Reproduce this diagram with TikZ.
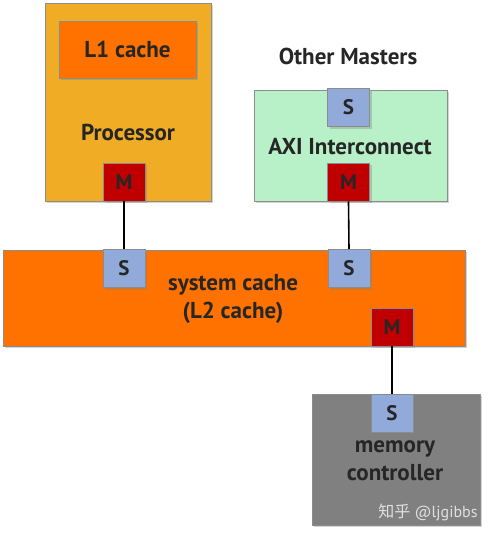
\documentclass[tikz,border=0pt]{standalone}
\usepackage{fontspec}
\setmainfont{PT Sans}
\newfontfamily\cjk{Noto Sans CJK SC}
\usetikzlibrary{shadows}

\definecolor{procyellow}{RGB}{240,172,36}
\definecolor{cacheorange}{RGB}{255,114,0}
\definecolor{axigreen}{RGB}{184,240,200}
\definecolor{memgray}{RGB}{128,128,128}
\definecolor{slaveblue}{RGB}{145,170,218}
\definecolor{masterred}{RGB}{192,0,0}

\tikzset{
  block/.style={draw=black!45, line width=0.8pt, inner sep=0pt,
    drop shadow={shadow xshift=2pt, shadow yshift=-2pt, opacity=0.35}},
  slave/.style={block, fill=slaveblue, minimum width=42pt, minimum height=38pt,
    font=\fontsize{21}{24}\selectfont\bfseries, text=black!85},
  master/.style={slave, fill=masterred},
  label/.style={font=\fontsize{23}{28}\selectfont\bfseries, text=black!85, align=center},
  wire/.style={line width=1.6pt}
}

\begin{document}
\begin{tikzpicture}[x=1pt,y=-1pt]
\useasboundingbox (0,0) rectangle (488,535);

% processor
\node[block, fill=procyellow, minimum width=166pt, minimum height=198pt] (proc) at (128,102) {};
\node[block, fill=cacheorange, minimum width=137pt, minimum height=57pt] (l1) at (127.5,49.5) {};
\node[label] at (l1) {L1 cache};
\node[label] (proclabel) at (128,132) {Processor};
\node[master] (pm) at (124,182) {M};

% interconnect
\node[label] (others) at (348,56) {Other Masters};
\node[block, fill=axigreen, minimum width=193pt, minimum height=111pt] (axi) at (350.5,145.5) {};
\node[slave] (axis) at (348.5,107.5) {S};
\node[label] (axilabel) at (350,147) {AXI Interconnect};
\node[master] (axim) at (348.5,182) {M};

% system cache
\node[block, fill=cacheorange, minimum width=462pt, minimum height=96pt] (l2) at (234,298) {};
\node[slave] (l2s1) at (124,268.5) {S};
\node[slave] (l2s2) at (349,268.5) {S};
\node[label] (l2label) at (233,299) {system cache\\(L2 cache)};
\node[master] (l2m) at (392,327) {M};

% memory controller
\node[block, fill=memgray, minimum width=168pt, minimum height=131pt] (mc) at (396,459.5) {};
\node[slave] (mcs) at (392,413) {S};
\node[label] (mclabel) at (395,461) {memory\\controller};
\node[font=\fontsize{16}{18}\selectfont, text=black!12] (mark) at (428,512) {{\cjk 知乎} @ljgibbs};

% wires
\draw[wire] (pm.south) -- (l2s1.north);
\draw[wire] (axim.south) -- (l2s2.north);
\draw[wire] (l2m.south) -- (mcs.north);
\end{tikzpicture}
\end{document}
